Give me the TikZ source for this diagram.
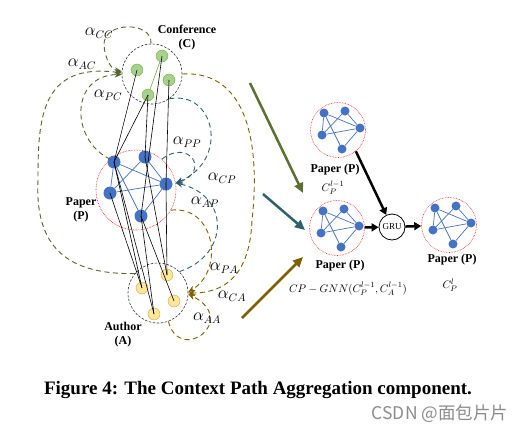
\documentclass[tikz,border=0pt]{standalone}
\usepackage{fontspec}
\setmainfont{Liberation Serif}
\newfontfamily\cjkfont{Noto Sans CJK SC}
\usepackage{tikz}
\usetikzlibrary{arrows.meta, positioning, calc}
\definecolor{confgreen}{RGB}{169,209,142}
\definecolor{confedge}{RGB}{112,173,71}
\definecolor{paperblue}{RGB}{68,114,196}
\definecolor{authoryellow}{RGB}{255,230,153}
\definecolor{authoredge}{RGB}{200,165,70}
\definecolor{olivepath}{RGB}{84,100,44}
\definecolor{olivearrow}{RGB}{92,112,48}
\definecolor{tealpath}{RGB}{46,96,110}
\definecolor{goldpath}{RGB}{127,96,0}

\begin{document}
\begin{tikzpicture}[x=1pt, y=-1pt,
  group/.style={circle, draw=black!80, dash pattern=on 2.5pt off 1.5pt, line width=0.6pt, minimum size=#1, inner sep=0pt},
  ring/.style={circle, draw=red, densely dotted, line width=0.6pt, minimum size=#1, inner sep=0pt},
  cnode/.style={circle, fill=confgreen, draw=confedge, line width=0.4pt, minimum size=12pt, inner sep=0pt},
  anode/.style={circle, fill=authoryellow, draw=authoredge, line width=0.4pt, minimum size=12pt, inner sep=0pt},
  pnode/.style={circle, fill=paperblue, minimum size=13pt, inner sep=0pt},
  spnode/.style={circle, fill=paperblue, minimum size=9pt, inner sep=0pt},
  pedge/.style={paperblue, line width=0.7pt},
  link/.style={black, line width=0.6pt},
  loopline/.style={dash pattern=on 5pt off 3.5pt, line width=0.9pt},
  looptip/.style={-{Stealth[length=7pt,width=6pt]}},
  alabel/.style={font=\fontsize{16}{16}\selectfont, inner sep=0pt},
  lbl/.style={font=\bfseries\fontsize{12}{14}\selectfont, align=center, inner sep=0pt},
  mlabel/.style={font=\fontsize{11}{11}\selectfont, inner sep=0pt},
  bigarrow/.style={line width=2.5pt, -{Triangle[length=10pt,width=9pt]}},
  flowarrow/.style={line width=2.5pt, -{Triangle[length=7pt,width=8pt]}}]
  \useasboundingbox (0,0) rectangle (528,432);

  % Groups
  \node[group=60pt] (C) at (152,74) {};
  \node[ring=80pt] (P) at (136,190) {};
  \node[group=60pt] (A) at (158,293) {};

  % Conference nodes
  \node[cnode] (c1) at (137,70) {};
  \node[cnode] (c2) at (162,56) {};
  \node[cnode] (c3) at (169,80) {};
  \node[cnode] (c4) at (148,95) {};
  \draw[confedge, line width=0.6pt] (c2) -- (c4);

  % Paper nodes
  \node[pnode] (p1) at (114,162) {};
  \node[pnode] (p2) at (145,157) {};
  \node[pnode] (p3) at (166,184) {};
  \node[pnode] (p4) at (110,193) {};
  \node[pnode] (p5) at (141,216) {};
  \foreach \u/\v in {1/4,1/3,1/5,2/4,2/3,4/3,3/5}
    \draw[pedge] (p\u) -- (p\v);

  % Author nodes
  \node[anode] (a1) at (167,275) {};
  \node[anode] (a2) at (142,288) {};
  \node[anode] (a3) at (174,301) {};
  \node[anode] (a4) at (154,314) {};

  % Links between types
  \foreach \u/\v in {c1/p1,c4/p1,c4/p2,c2/p5,c3/p3,p1/a4,p1/a2,p4/a2,p5/a3,p5/a4,p2/a1,p3/a1}
    \draw[link] (\u.center) -- (\v.center);

  % Group labels
  \node[lbl] (clab) at (187,38) {Conference\\(C)};
  \node[lbl] (plab) at (81,210) {Paper\\(P)};
  \node[lbl] (alab) at (123,335) {Author\\(A)};

  % Paths into conference
  \draw[loopline, olivepath, looptip] (C.92) .. controls (153,21) and (103,21) .. (104,45) .. controls (105,60) and (112,70) .. (C.175);
  \draw[loopline, olivepath, looptip] (A.140) .. controls (60,275) and (35,240) .. (38,180) .. controls (38,120) and (40,62) .. (C.178);
  \draw[loopline, olivepath, looptip] (P.130) .. controls (70,140) and (70,75) .. (C.181);

  % Paths into paper
  \draw[loopline, tealpath, looptip] (P.50) .. controls (190,138) and (210,172) .. (P.10);
  \draw[loopline, tealpath, looptip] (C.-55) .. controls (215,90) and (230,160) .. (P.10);
  \draw[loopline, tealpath, looptip] (A.45) .. controls (230,255) and (230,195) .. (P.10);

  % Paths into author
  \draw[loopline, goldpath, looptip] (P.-30) .. controls (215,205) and (225,270) .. (A.2);
  \draw[loopline, goldpath, looptip] (C.0) .. controls (250,70) and (260,150) .. (252,220) .. controls (250,275) and (225,293) .. (A.0);
  \draw[loopline, goldpath, looptip] (A.-70) .. controls (180,365) and (240,320) .. (A.-2);

  % Weights
  \node[alabel] (lcc) at (99,33) {$\alpha_{CC}$};
  \node[alabel] (lac) at (82,64) {$\alpha_{AC}$};
  \node[alabel] (lpc) at (108,95) {$\alpha_{PC}$};
  \node[alabel] (lpp) at (187,142) {$\alpha_{PP}$};
  \node[alabel] (lcp) at (222,178) {$\alpha_{CP}$};
  \node[alabel] (lap) at (205,202) {$\alpha_{AP}$};
  \node[alabel] (lpa) at (224,268) {$\alpha_{PA}$};
  \node[alabel] (lca) at (232,296) {$\alpha_{CA}$};
  \node[alabel] (laa) at (207,318) {$\alpha_{AA}$};

  % Paper graphs on the right
  \foreach \g/\x/\y in {pa/338/130, pb/337/228, pc/449/225} {
    \begin{scope}[shift={(\x,\y)}]
      \node[ring=55pt] (\g) at (0,0) {};
      \node[spnode] (\g1) at (-14,-17) {};
      \node[spnode] (\g2) at (7,-19) {};
      \node[spnode] (\g3) at (22,-2) {};
      \node[spnode] (\g4) at (-16,5) {};
      \node[spnode] (\g5) at (4,19) {};
      \foreach \u/\v in {1/4,1/3,1/5,2/4,2/3,4/3,3/5}
        \draw[pedge] (\g\u) -- (\g\v);
    \end{scope}
  }
  \node[circle, draw, line width=0.8pt, minimum size=26pt, inner sep=0pt, font=\fontsize{9}{9}\selectfont] (gru) at (392,227) {GRU};
  \draw[flowarrow] (pa.-50) -- (gru);
  \draw[flowarrow] (pb) -- (gru);
  \draw[flowarrow] (gru) -- (pc);

  \node[lbl] (pal) at (335,170) {Paper (P)};
  \node[mlabel] (pac) at (333,188) {$C_P^{l-1}$};
  \node[lbl] (pbl) at (340,266) {Paper (P)};
  \node[mlabel] (pbf) at (348,289) {$CP-GNN(C_P^{l-1},C_A^{l-1})$};
  \node[lbl] (pcl) at (452,260) {Paper (P)};
  \node[mlabel] (pcc) at (450,285) {$C_P^{l}$};

  % Aggregation arrows
  \coordinate (og0) at (250,83);
  \coordinate (og1) at (303,193);
  \coordinate (tl0) at (263,194);
  \coordinate (tl1) at (305,230);
  \coordinate (gd0) at (242,318);
  \coordinate (gd1) at (303,257);
  \draw[bigarrow, olivearrow] (og0) -- (og1);
  \draw[bigarrow, tealpath] (tl0) -- (tl1);
  \draw[bigarrow, goldpath] (gd0) -- (gd1);

  % Caption
  \node[font=\bfseries\fontsize{19}{22}\selectfont] (cap) at (258,390) {Figure 4: The Context Path Aggregation component.};
  \node[font=\cjkfont\fontsize{17.5}{17.5}\selectfont, text=black!45] (wm) at (440,414) {CSDN @面包片片};
\end{tikzpicture}
\end{document}
